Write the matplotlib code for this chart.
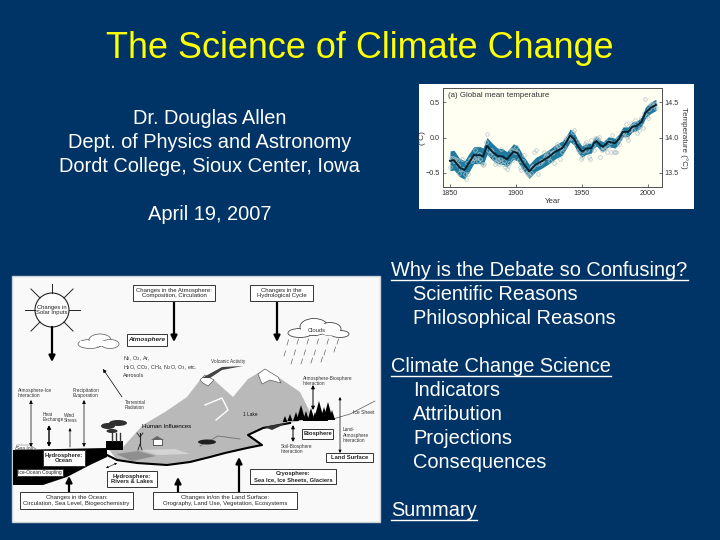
import matplotlib
matplotlib.use("Agg")
import matplotlib.pyplot as plt
from matplotlib.patches import Rectangle, Polygon, Circle, Ellipse

plt.rcParams['font.family'] = ['Liberation Sans', 'DejaVu Sans']

bg = '#003366'

title = "The Science of Climate Change"
byline = ["Dr. Douglas Allen", "Dept. of Physics and Astronomy",
          "Dordt College, Sioux Center, Iowa"]
date = "April 19, 2007"
outline_1 = "Why is the Debate so Confusing?"
outline_1_sub = ["Scientific Reasons", "Philosophical Reasons"]
outline_2 = "Climate Change Science"
outline_2_sub = ["Indicators", "Attribution", "Projections", "Consequences"]
outline_3 = "Summary"

# annual anomalies, read by eye, 1850 onwards
annual = [-0.42, -0.29, -0.29, -0.33, -0.31, -0.32, -0.39, -0.50, -0.44, -0.31,
          -0.45, -0.52, -0.59, -0.36, -0.52, -0.30, -0.31, -0.33, -0.29, -0.18,
          -0.28, -0.33, -0.24, -0.31, -0.38, -0.39, -0.37, -0.07, 0.05, -0.18,
          -0.24, -0.17, -0.21, -0.29, -0.37, -0.34, -0.32, -0.38, -0.30, -0.16,
          -0.37, -0.33, -0.42, -0.45, -0.41, -0.36, -0.18, -0.17, -0.32, -0.20,
          -0.14, -0.20, -0.32, -0.42, -0.46, -0.33, -0.25, -0.46, -0.50, -0.52,
          -0.53, -0.50, -0.42, -0.41, -0.21, -0.17, -0.38, -0.51, -0.36, -0.33,
          -0.33, -0.21, -0.28, -0.26, -0.28, -0.22, -0.33, -0.22, -0.20, -0.36,
          -0.15, -0.09, -0.12, -0.30, -0.15, -0.21, -0.14, -0.03, -0.01, -0.02,
          0.02, 0.01, 0.00, 0.08, 0.11, -0.08, -0.05, -0.18, -0.19, -0.30,
          -0.28, -0.19, -0.09, -0.07, -0.18, -0.28, -0.31, -0.03, -0.10, -0.17,
          -0.01, 0.00, -0.02, 0.01, -0.28, -0.17, -0.14, -0.16, -0.05, -0.20,
          -0.14, -0.07, -0.21, 0.03, -0.20, -0.21, -0.21, -0.02, -0.09, -0.02,
          0.08, 0.03, 0.07, 0.19, 0.01, -0.03, 0.11, 0.21, 0.16, 0.10,
          0.25, 0.21, 0.06, 0.11, 0.17, 0.27, 0.13, 0.35, 0.55, 0.30,
          0.28, 0.41, 0.46, 0.47, 0.45, 0.48, 0.42]
first_year = 1850

smooth_years = [1850, 1853, 1857, 1861, 1864, 1868, 1873, 1875, 1878, 1882, 1886,
                1890, 1893, 1898, 1901, 1905, 1910, 1915, 1920, 1925, 1930, 1935,
                1938, 1941, 1944, 1947, 1950, 1953, 1957, 1959, 1961, 1964, 1966,
                1970, 1975, 1978, 1981, 1985, 1988, 1992, 1995, 1998, 2002, 2006]
smooth_vals = [-0.33, -0.32, -0.42, -0.46, -0.37, -0.25, -0.25, -0.27, -0.12, -0.20, -0.26,
               -0.27, -0.31, -0.20, -0.22, -0.35, -0.48, -0.38, -0.33, -0.27, -0.20, -0.15,
               -0.07, 0.03, -0.02, -0.13, -0.20, -0.16, -0.15, -0.08, -0.05, -0.11, -0.13,
               -0.06, -0.08, -0.02, 0.08, 0.08, 0.15, 0.17, 0.22, 0.35, 0.42, 0.46]
band_half = [0.14, 0.14, 0.13, 0.13, 0.13, 0.12, 0.12, 0.12, 0.12, 0.12, 0.11,
             0.11, 0.11, 0.11, 0.11, 0.11, 0.10, 0.10, 0.10, 0.10, 0.10, 0.10,
             0.09, 0.09, 0.09, 0.09, 0.08, 0.08, 0.07, 0.07, 0.07, 0.07, 0.07,
             0.07, 0.07, 0.07, 0.07, 0.07, 0.07, 0.07, 0.07, 0.08, 0.08, 0.08]
year_ticks = [1850, 1900, 1950, 2000]
left_ticks = [-0.5, 0.0, 0.5]
right_ticks = [13.5, 14.0, 14.5]

W, H = 720, 540
fig = plt.figure(figsize=(7.2, 5.4), dpi=100, facecolor=bg)
ax = fig.add_axes([0, 0, 1, 1])
ax.set_xlim(0, W)
ax.set_ylim(H, 0)
ax.axis('off')


def label(x, y, s, size=14.4, color='white', ha='left', **kw):
    ax.text(x, y + 1, s, fontsize=size, color=color, ha=ha, va='center', **kw)


def underlined(x, y, s, x_end):
    label(x, y, s)
    ax.plot([x, x_end], [y + 10, y + 10], color='white', lw=1)


def box(x0, y0, x1, y1, lines, size=4.3, **kw):
    ax.add_patch(Rectangle((x0, y0), x1 - x0, y1 - y0, fc='white', ec='#333333', lw=0.7, zorder=6))
    ax.text((x0 + x1) / 2, (y0 + y1) / 2, lines, fontsize=size, color='#222222',
            ha='center', va='center', zorder=7, **kw)


def small(x, y, s, size=3.9, color='#333333'):
    ax.text(x, y, s, fontsize=size, color=color, ha='left', va='center', zorder=7, linespacing=1.1)


def arrow(x0, y0, x1, y1, lw=1.6, both=False, scale=9):
    style = '<|-|>' if both else '-|>'
    ax.annotate('', xy=(x1, y1), xytext=(x0, y0), zorder=5,
                arrowprops=dict(arrowstyle=style, color='black', lw=lw,
                                mutation_scale=scale, shrinkA=0, shrinkB=0))


# text
ax.text(360, 48, title, fontsize=25.9, color='#ffff00', ha='center', va='center')
for y, s in zip([118, 142, 166], byline):
    label(209.5, y, s, ha='center')
label(209.5, 214, date, ha='center')
underlined(391, 270, outline_1, 688)
for y, s in zip([294, 318], outline_1_sub):
    label(413, y, s)
underlined(391, 366, outline_2, 611)
for y, s in zip([390, 414, 438, 462], outline_2_sub):
    label(413, y, s)
underlined(391, 510, outline_3, 477)

# panel behind the temperature plot
ax.add_patch(Rectangle((419, 84), 275, 125, fc='white', ec='none'))

# climate system diagram
ax.add_patch(Rectangle((12, 276), 368, 246, fc='#f9f9f9', ec='#c8d0d8', lw=1))

# sun
for x0, y0, x1, y1 in [(52, 293, 52, 284), (35, 310, 25, 310), (69, 310, 80, 310),
                       (40, 298, 31, 289), (64, 298, 73, 289), (40, 322, 31, 331),
                       (64, 322, 73, 331)]:
    ax.plot([x0, x1], [y0, y1], color='#222222', lw=0.7)
ax.add_patch(Circle((52, 310), 17, fc='white', ec='#222222', lw=0.8))
ax.text(52, 310, "Changes in\nSolar Inputs", fontsize=4.2, color='#222222', ha='center', va='center')
arrow(52, 327, 52, 362)

# top boxes and arrows
box(133, 285, 215, 301, "Changes in the Atmosphere:\nComposition, Circulation")
arrow(174, 301, 174, 342)
box(127, 334, 167, 346, "Atmosphere", size=4.6, fontweight='bold', fontstyle='italic')
box(250, 285, 313, 301, "Changes in the\nHydrological Cycle")
arrow(277, 301, 277, 342)

# small cloud
for x, y, w, h in [(90, 344, 24, 9), (100, 340, 22, 12), (110, 344, 18, 9)]:
    ax.add_patch(Ellipse((x, y), w, h, fc='white', ec='#555555', lw=0.5))
ax.add_patch(Rectangle((80, 341), 36, 5, fc='white', ec='none'))
small(123, 366, "N$_2$, O$_2$, Ar,\nH$_2$O, CO$_2$, CH$_4$, N$_2$O, O$_3$, etc.\nAerosols")
arrow(122, 397, 103, 369, lw=0.5, scale=5)

# big rain cloud
for x, y, w, h in [(300, 333, 24, 9), (314, 327, 28, 17), (330, 329, 22, 13), (340, 334, 18, 7)]:
    ax.add_patch(Ellipse((x, y), w, h, fc='white', ec='#444444', lw=0.6))
for x, y, w, h in [(300, 333, 22, 7), (314, 328, 26, 14), (330, 330, 20, 11), (339, 334, 16, 5)]:
    ax.add_patch(Ellipse((x, y), w, h, fc='white', ec='none'))
small(308, 331, "Clouds", size=4.2)
for x, y in [(287, 345), (297, 344), (307, 344), (317, 344), (327, 344), (337, 344),
             (284, 356), (294, 355), (304, 355), (314, 355), (324, 355), (334, 352),
             (291, 364), (301, 364), (311, 363), (321, 362)]:
    ax.plot([x, x + 1.5], [y, y - 5], color='#666666', lw=0.5)

# land and ocean
land = [(107, 447), (123, 447), (143, 425), (165, 412), (187, 397), (200, 380), (205, 375),
        (214, 380), (233, 397), (248, 379), (265, 369), (278, 377), (300, 392), (310, 412),
        (305, 420), (290, 423), (263, 428), (248, 435), (262, 445), (247, 448), (225, 453),
        (210, 457), (190, 462), (167, 465), (137, 463), (117, 460)]
ax.add_patch(Polygon(land, fc='#b9b9b9', ec='none', zorder=2))
ax.plot([290, 263, 248, 262, 247, 225, 210, 190, 167, 137, 117, 107],
        [423, 428, 435, 445, 448, 453, 457, 462, 465, 463, 460, 455], color='black', lw=1.5, zorder=3)
ax.add_patch(Polygon([(200, 380), (205, 375), (214, 380), (208, 386), (203, 383)], fc='white', ec='#444444', lw=0.4, zorder=3))
ax.add_patch(Polygon([(258, 374), (265, 369), (278, 377), (281, 383), (270, 380), (262, 384)], fc='white', ec='#444444', lw=0.4, zorder=3))
ax.add_patch(Polygon([(202, 378), (222, 367), (243, 366), (222, 370), (210, 378)], fc='#444444', ec='none', zorder=3))
ax.add_patch(Polygon([(13, 450), (107, 448), (107, 457), (90, 465), (67, 477), (43, 485), (13, 485)],
                     fc='black', ec='none', zorder=3))
ax.add_patch(Polygon([(15, 450), (17, 445), (30, 445), (36, 449)], fc='white', ec='#444444', lw=0.3, zorder=4))
small(16, 448, "Sea Ice", size=3.6)

# fields, river, lake
ax.add_patch(Polygon([(116, 454), (138, 451), (156, 456), (132, 461)], fc='#8f8f8f', ec='none', zorder=3))
ax.add_patch(Polygon([(140, 450), (175, 449), (190, 454), (158, 455)], fc='#d4d4d4', ec='none', zorder=3))
ax.plot([200, 218, 240], [446, 436, 439], color='#777777', lw=0.7, zorder=3)
ax.plot([205, 222, 228, 216], [405, 398, 410, 420], color='white', lw=1, zorder=3)
ax.add_patch(Polygon([(264, 427), (280, 424), (287, 423), (272, 430)], fc='#333333', ec='none', zorder=3))
small(243, 414, "1 Lake", size=3.4, color='#111111')

# industry, man, house, car
ax.add_patch(Rectangle((106, 441), 17, 9, fc='black', ec='none', zorder=4))
for x in [112, 116, 120]:
    ax.plot([x, x], [433, 441], color='#333333', lw=1, zorder=4)
for x, y, w, h in [(108, 426, 14, 6), (118, 423, 18, 6), (112, 431, 11, 4)]:
    ax.add_patch(Ellipse((x, y), w, h, fc='#303030', ec='none', zorder=4))
ax.plot([140, 140], [433, 444], color='#222222', lw=0.8, zorder=5)
ax.plot([137, 140, 143], [433, 437, 433], color='#222222', lw=0.6, zorder=5)
ax.plot([138, 140, 142], [450, 444, 450], color='#222222', lw=0.6, zorder=5)
ax.add_patch(Rectangle((153, 439), 9, 6, fc='white', ec='#222222', lw=0.5, zorder=5))
ax.add_patch(Polygon([(151, 440), (157, 436), (164, 440)], fc='#666666', ec='none', zorder=5))
ax.add_patch(Ellipse((207, 442), 18, 5, fc='#202020', ec='none', zorder=5))
small(142, 427, "Human Influences", size=4.4, color='black')
small(125, 405, "Terrestrial\nRadiation", size=3.3)

# trees
for x, top, base in [(285, 416, 422), (290, 414, 421), (296, 412, 421), (301, 405, 420), (306, 411, 421), (311, 408, 421),
                     (315, 412, 421), (319, 401, 421), (324, 407, 421), (328, 402, 420), (332, 410, 420)]:
    half = (base - top) * 0.22 + 1
    ax.add_patch(Polygon([(x - half, base), (x, top), (x + half, base)], fc='black', ec='none', zorder=4))
ax.plot([333, 350, 375], [419, 414, 401], color='#555555', lw=0.5, zorder=3)
small(353, 412, "Ice Sheet", size=3.6)

# labelled interactions
small(18, 393, "Atmosphere-Ice\nInteraction", size=3.4)
small(73, 393, "Precipitation\nEvaporation", size=3.4)
small(43, 417, "Heat\nExchange", size=3.4)
small(64, 418, "Wind\nStress", size=3.4)
small(211, 361, "Volcanic Activity", size=3.4)
small(303, 381, "Atmosphere-Biosphere\nInteraction", size=3.4)
small(281, 449, "Soil-Biosphere\nInteraction", size=3.4)
small(343, 435, "Land-\nAtmosphere\nInteraction", size=3.4)
arrow(31, 447, 31, 400, lw=0.5, both=True, scale=5)
arrow(49, 447, 49, 425, lw=1, both=True, scale=5)
arrow(70, 447, 70, 428, lw=0.5, scale=4)
arrow(84, 447, 84, 400, lw=0.5, both=True, scale=5)
arrow(35, 450, 35, 470, lw=0.5, both=True, scale=4)
arrow(117, 463, 106, 468, lw=0.4, both=True, scale=3)
arrow(313, 385, 313, 410, lw=0.7, both=True, scale=5)
arrow(293, 425, 293, 442, lw=0.7, both=True, scale=5)
arrow(340, 397, 340, 453, lw=0.5, both=True, scale=4)

# bottom boxes
box(43, 450, 85, 466, "Hydrosphere:\nOcean", size=4.2, fontweight='bold')
box(17, 469, 63, 476, "Ice-Ocean Coupling", size=3.5)
box(107, 471, 157, 487, "Hydrosphere:\nRivers & Lakes", size=4.2, fontweight='bold')
box(20, 492, 133, 509, "Changes in the Ocean:\nCirculation, Sea Level, Biogeochemistry")
box(153, 492, 297, 509, "Changes in/on the Land Surface:\nOrography, Land Use, Vegetation, Ecosystems")
box(250, 469, 336, 484, "Cryosphere:\nSea Ice, Ice Sheets, Glaciers", size=4.2, fontweight='bold')
box(302, 429, 333, 439, "Biosphere", size=4.2, fontweight='bold')
box(326, 453, 373, 462, "Land Surface", size=4.2, fontweight='bold')
arrow(69, 492, 69, 476)
arrow(178, 492, 178, 477)
arrow(239, 492, 239, 457)

# temperature inset
x0, y0, x1, y1 = 443, 88, 662, 187
tax = fig.add_axes([x0 / W, 1 - y1 / H, (x1 - x0) / W, (y1 - y0) / H], facecolor='#fffff2')
years = [first_year + i for i in range(len(annual))]
lower = [v - b for v, b in zip(smooth_vals, band_half)]
upper = [v + b for v, b in zip(smooth_vals, band_half)]
tax.fill_between(smooth_years, lower, upper, color='#1f7a9e', lw=0)
tax.plot(years, annual, 'o', ms=2.6, mfc='none', mec='#b5c5c8', mew=0.5)
tax.plot(smooth_years, smooth_vals, color='#06202f', lw=1.4)
tax.set_xlim(1844.7, 2010.6)
tax.set_ylim(-0.7, 0.7)
tax.set_xticks(year_ticks)
tax.set_yticks(left_ticks)
tax.set_yticklabels(['\u22120.5', '0.0', '0.5'])
tax.tick_params(labelsize=5.2, length=2, width=0.5, direction='in', pad=2, colors='#333333')
tax.set_xlabel("Year", fontsize=5.6, labelpad=1, color='#333333')
tax.set_ylabel("(\u00b0C)", fontsize=6, labelpad=0.5, color='#333333')
tax.text(0.025, 0.92, "(a) Global mean temperature", transform=tax.transAxes, fontsize=5.7,
         color='#333333', va='center')
rax = tax.twinx()
rax.set_ylim(13.3, 14.7)
rax.set_yticks(right_ticks)
rax.tick_params(labelsize=5.2, length=2, width=0.5, direction='in', pad=2, colors='#333333')
rax.set_ylabel("Temperature (\u00b0C)", fontsize=5.8, rotation=270, labelpad=6, color='#333333')
for a in (tax, rax):
    for sp in a.spines.values():
        sp.set_linewidth(0.5)
        sp.set_color('#444444')

fig.savefig("out.png", dpi=100, facecolor=bg)
